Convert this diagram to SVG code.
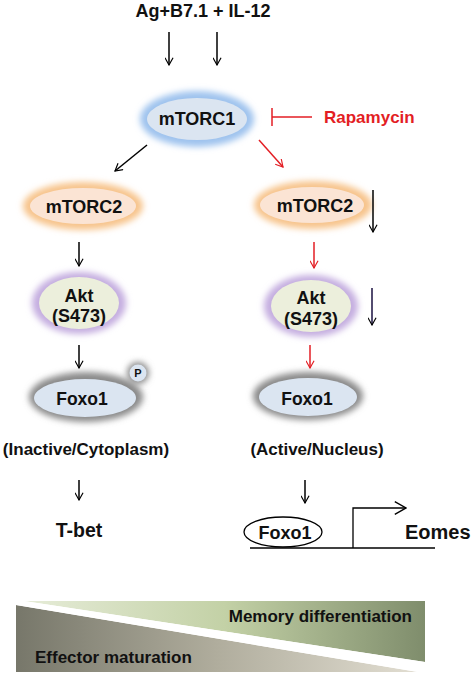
<svg xmlns="http://www.w3.org/2000/svg" width="474" height="674" viewBox="0 0 474 674">
<defs>
<style>
text{font-family:"Liberation Sans",Arial,sans-serif;font-weight:bold;fill:#111;}
.c{text-anchor:middle;}
.red{fill:#e31e24;}
.k{stroke:#000;stroke-width:1.5;fill:none;}
.r{stroke:#e31e24;stroke-width:1.5;fill:none;}
</style>
<filter id="blur" x="-30%" y="-30%" width="160%" height="160%"><feGaussianBlur stdDeviation="3"/></filter>
<marker id="ak" viewBox="0 0 10 10" refX="9" refY="5" markerWidth="9" markerHeight="9" orient="auto" markerUnits="userSpaceOnUse"><path d="M1,0.5 L9,5 L1,9.5" fill="none" stroke="#000" stroke-width="1.3"/></marker>
<marker id="ar" viewBox="0 0 10 10" refX="9" refY="5" markerWidth="9" markerHeight="9" orient="auto" markerUnits="userSpaceOnUse"><path d="M1,0.5 L9,5 L1,9.5" fill="none" stroke="#e31e24" stroke-width="1.3"/></marker>
<marker id="ap" viewBox="0 0 10 10" refX="9" refY="5" markerWidth="14" markerHeight="14" orient="auto" markerUnits="userSpaceOnUse"><path d="M1,0.5 L9,5 L1,9.5" fill="none" stroke="#000" stroke-width="1"/></marker>
<linearGradient id="gUp" x1="0" y1="0" x2="1" y2="0"><stop offset="0" stop-color="#e6ecd8"/><stop offset="0.5" stop-color="#c3d1a6"/><stop offset="1" stop-color="#7f8d6c"/></linearGradient>
<linearGradient id="gLo" x1="0" y1="0" x2="1" y2="0"><stop offset="0" stop-color="#77776a"/><stop offset="0.5" stop-color="#b0ad9d"/><stop offset="1" stop-color="#e2ded2"/></linearGradient>
</defs>
<rect width="474" height="674" fill="#fff"/>

<text x="203" y="17" class="c" font-size="18">Ag+B7.1 + IL-12</text>

<g id="mTORC1">
<ellipse cx="197" cy="119" rx="57" ry="28" fill="#9fc3ee" filter="url(#blur)"/>
<ellipse cx="197" cy="119" rx="50" ry="21" fill="#dbe5f1"/>
<text x="197" y="125" class="c" font-size="18">mTORC1</text>
</g>

<g id="Rapamycin">
<text x="324" y="123" class="red" font-size="17">Rapamycin</text>
</g>

<g id="mTORC2-left">
<ellipse cx="83" cy="206" rx="60" ry="24" fill="#f7c48c" filter="url(#blur)"/>
<ellipse cx="83" cy="206" rx="53" ry="18" fill="#fbe4d4"/>
<text x="84" y="213" class="c" font-size="18">mTORC2</text>
</g>

<g id="Akt-left">
<ellipse cx="79" cy="303" rx="47" ry="31" fill="#c5aee0" filter="url(#blur)"/>
<ellipse cx="79" cy="303" rx="40" ry="26" fill="#ecefdc"/>
<text x="79" y="302" class="c" font-size="18">Akt</text>
<text x="79" y="322" class="c" font-size="18">(S473)</text>
</g>

<g id="Foxo1-left">
<ellipse cx="86" cy="397" rx="57" ry="25" fill="#8a8a8a" filter="url(#blur)"/>
<ellipse cx="85" cy="398" rx="51" ry="19" fill="#dbe5f1"/>
<text x="82" y="405" class="c" font-size="17.5">Foxo1</text>
<circle cx="138" cy="373" r="11" fill="#8a8a8a" filter="url(#blur)"/>
<circle cx="138" cy="373" r="8.5" fill="#dbe5f1"/>
<text x="138" y="377" class="c" font-size="11">P</text>
</g>

<g id="mTORC2-right">
<ellipse cx="313" cy="205" rx="59" ry="24" fill="#f7c48c" filter="url(#blur)"/>
<ellipse cx="312" cy="205" rx="52" ry="18" fill="#fbe4d4"/>
<text x="315" y="212" class="c" font-size="18">mTORC2</text>
<line x1="373" y1="191" x2="373" y2="231" stroke="#f7c48c" stroke-width="8" filter="url(#blur)"/>
</g>

<g id="Akt-right">
<ellipse cx="311" cy="306" rx="47" ry="31" fill="#c5aee0" filter="url(#blur)"/>
<ellipse cx="311" cy="306" rx="40" ry="26" fill="#ecefdc"/>
<text x="311" y="304" class="c" font-size="18">Akt</text>
<text x="311" y="325" class="c" font-size="18">(S473)</text>
<line x1="372" y1="289" x2="372" y2="324" stroke="#c5aee0" stroke-width="8" filter="url(#blur)"/>
</g>

<g id="Foxo1-right">
<ellipse cx="308" cy="396" rx="55" ry="24" fill="#8a8a8a" filter="url(#blur)"/>
<ellipse cx="308" cy="397" rx="49" ry="19" fill="#dbe5f1"/>
<text x="307" y="405" class="c" font-size="17.5">Foxo1</text>
</g>

<g id="label-inactive"><text x="86" y="455" class="c" font-size="17">(Inactive/Cytoplasm)</text></g>
<g id="label-active"><text x="317" y="455" class="c" font-size="17">(Active/Nucleus)</text></g>

<g id="Tbet"><text x="79" y="537" class="c" font-size="19.5">T-bet</text></g>

<g id="Eomes-gene">
<line x1="250" y1="548" x2="435" y2="548" stroke="#000" stroke-width="1.3"/>
<ellipse cx="283" cy="532" rx="39" ry="15" fill="#fff" stroke="#000" stroke-width="1.3"/>
<text x="285" y="539" class="c" font-size="18">Foxo1</text>
<path d="M353,548 V508 H406" fill="none" stroke="#000" stroke-width="1.3" marker-end="url(#ap)"/>
<text x="405" y="539" font-size="20">Eomes</text>
</g>

<g id="connectors">
<line x1="169" y1="32" x2="169" y2="65" class="k" marker-end="url(#ak)"/>
<line x1="217" y1="32" x2="217" y2="65" class="k" marker-end="url(#ak)"/>
<line x1="312" y1="117" x2="272" y2="117" class="r"/>
<line x1="272" y1="108" x2="272" y2="126" class="r"/>
<line x1="147" y1="145" x2="115" y2="171" class="k" marker-end="url(#ak)"/>
<line x1="259" y1="140" x2="283" y2="167" class="r" marker-end="url(#ar)"/>
<line x1="79" y1="242" x2="79" y2="266" class="k" marker-end="url(#ak)"/>
<line x1="79" y1="345" x2="79" y2="368" class="k" marker-end="url(#ak)"/>
<line x1="314" y1="242" x2="314" y2="268" class="r" marker-end="url(#ar)"/>
<line x1="310" y1="345" x2="310" y2="368" class="r" marker-end="url(#ar)"/>
<line x1="373" y1="190" x2="373" y2="232" class="k" marker-end="url(#ak)"/>
<line x1="372" y1="288" x2="372" y2="325" stroke="#1a1040" stroke-width="1.5" marker-end="url(#ak)"/>
<line x1="79" y1="480" x2="79" y2="500" class="k" marker-end="url(#ak)"/>
<line x1="305" y1="480" x2="305" y2="503" class="k" marker-end="url(#ak)"/>
</g>

<g id="gradient-bar">
<polygon points="24,601 425,601 425,662" fill="url(#gUp)"/>
<polygon points="16,605 16,672 418,672" fill="url(#gLo)"/>
<polygon points="16,601 24,601 425,662 425,672 418,672 16,605" fill="#fff"/>
<text x="412" y="622" text-anchor="end" font-size="17">Memory differentiation</text>
<text x="35" y="663" font-size="17">Effector maturation</text>
</g>
</svg>
